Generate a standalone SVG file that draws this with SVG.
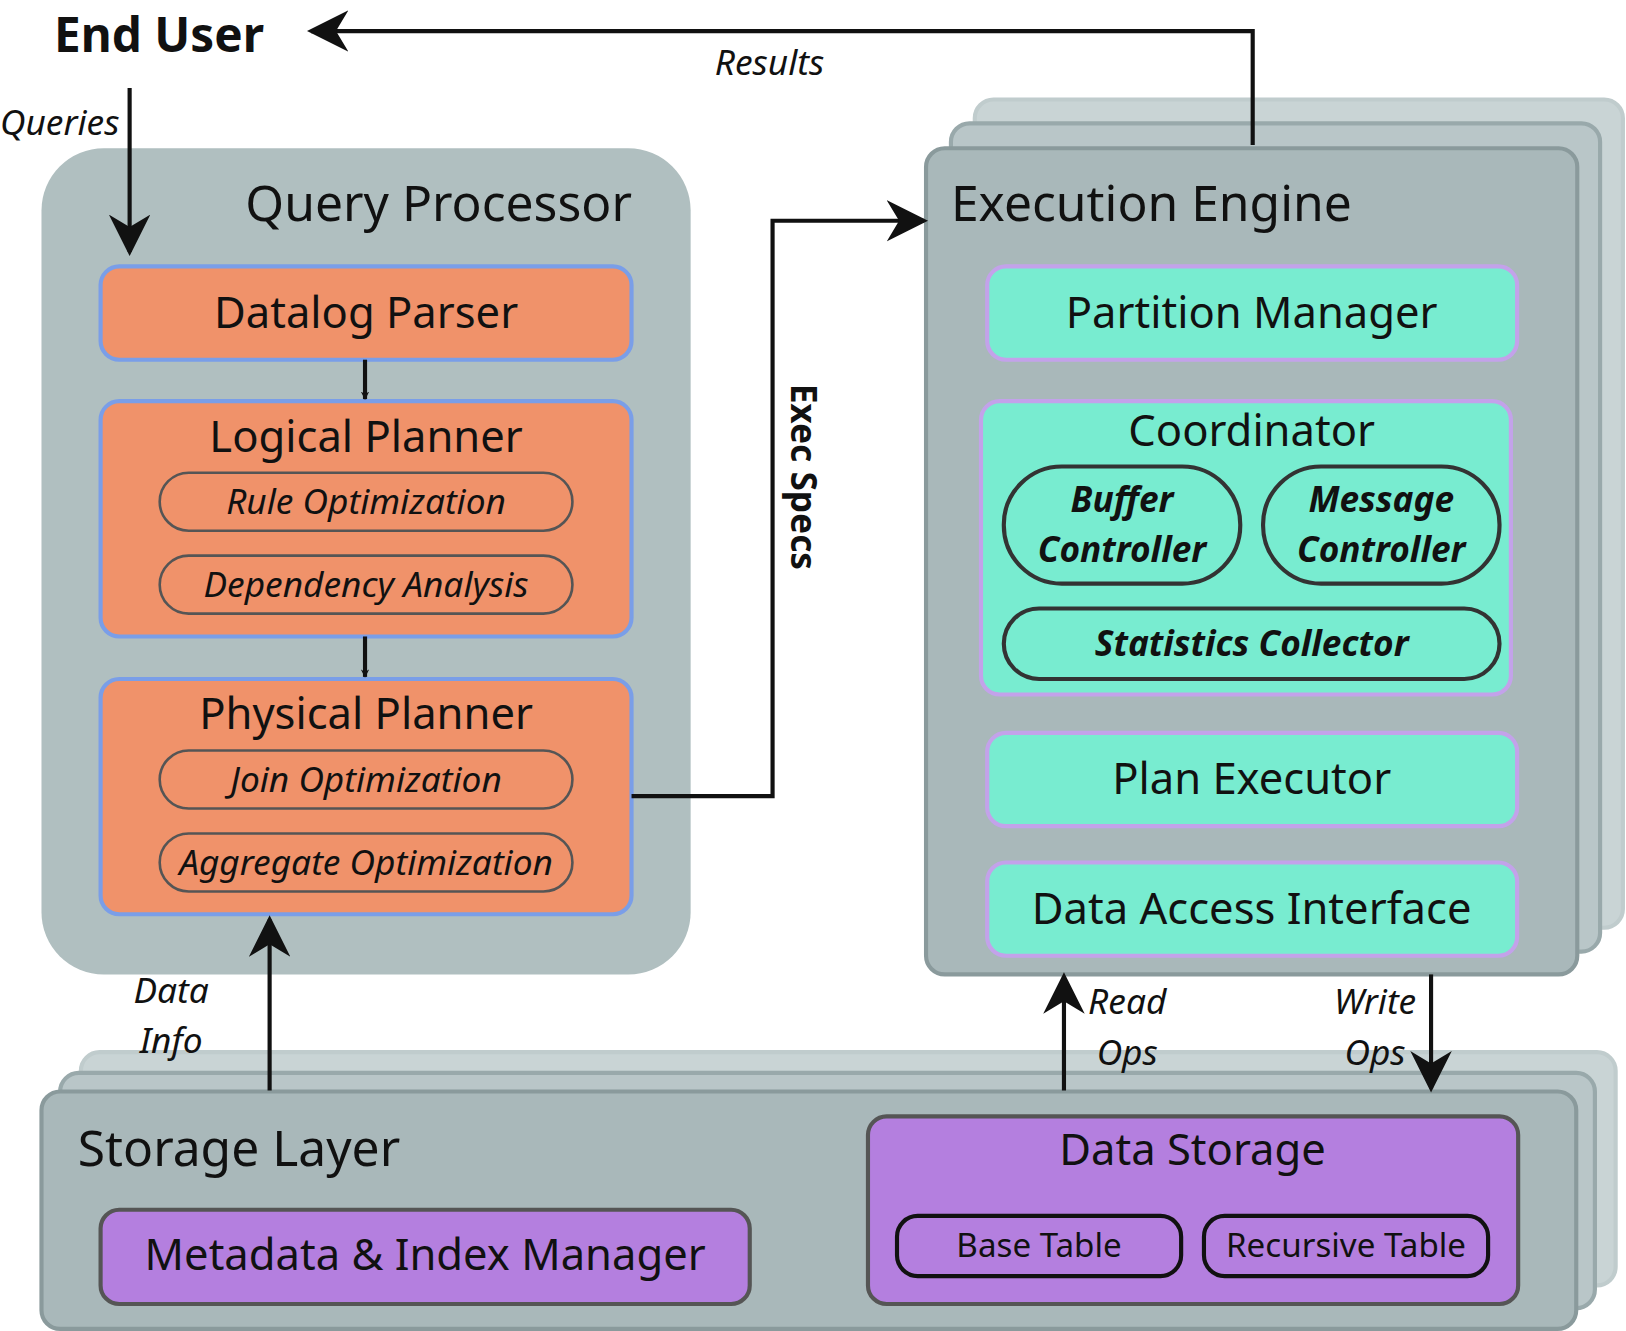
<svg xmlns="http://www.w3.org/2000/svg" width="1626" height="1331" viewBox="0 0 1626 1331">
<defs>
<style>
text{font-family:"Noto Sans","Open Sans",sans-serif;fill:#111}
.t50{font-size:48px}
.t42{font-size:42px;text-anchor:middle}
.i34{font-size:34px;font-style:italic;text-anchor:middle}
.lbl{font-size:34px;font-style:italic}
.b34{font-size:34px;font-weight:bold;font-style:italic;text-anchor:middle}
.orange{fill:#f0926a;stroke:#7a9ee8;stroke-width:4}
.pill{fill:#f0926a;stroke:#555;stroke-width:2.5}
.teal{fill:#78ecd0;stroke:#c3a2ea;stroke-width:4}
.tpill{fill:#78ecd0;stroke:#333;stroke-width:4}
.purple{fill:#b47fdf;stroke:#555;stroke-width:4}
.ppill{fill:#b47fdf;stroke:#111;stroke-width:4}
.gray{fill:#a9b8ba;stroke:#8a9a9c;stroke-width:4}
.line{fill:none;stroke:#111;stroke-width:4}
</style>
<marker id="ah" viewBox="0 0 10 10" refX="9" refY="5" markerWidth="8" markerHeight="8" markerUnits="userSpaceOnUse" orient="auto"><path d="M0,0 L10,5 L0,10 L3,5 z" fill="#111"/></marker>
<marker id="ahL" viewBox="0 0 10 10" refX="9" refY="5" markerWidth="10" markerHeight="10" orient="auto"><path d="M0,0 L10,5 L0,10 L3,5 z" fill="#111"/></marker>
</defs>
<g transform="scale(1.037,1.0366)">
<g id="end-user"><text x="52" y="50" style="font-size:46px;font-weight:bold">End User</text></g>

<g id="query-processor">
<rect x="40" y="143" width="626" height="797" rx="60" fill="#b0bfc0"/>
<text x="423" y="213" class="t50" text-anchor="middle">Query Processor</text>
</g>
<g id="datalog-parser"><rect class="orange" x="97" y="257" width="512" height="90" rx="18"/><text class="t42" x="353" y="316">Datalog Parser</text></g>
<g id="logical-planner"><rect class="orange" x="97" y="387" width="512" height="227" rx="18"/><text class="t42" x="353" y="436">Logical Planner</text>
<rect class="pill" x="154" y="456" width="398" height="56" rx="28"/><text class="i34" x="353" y="496">Rule Optimization</text>
<rect class="pill" x="154" y="536" width="398" height="56" rx="28"/><text class="i34" x="353" y="576">Dependency Analysis</text></g>
<g id="physical-planner"><rect class="orange" x="97" y="655" width="512" height="227" rx="18"/><text class="t42" x="353" y="703">Physical Planner</text>
<rect class="pill" x="154" y="724" width="398" height="56" rx="28"/><text class="i34" x="353" y="764">Join Optimization</text>
<rect class="pill" x="154" y="804" width="398" height="56" rx="28"/><text class="i34" x="353" y="844">Aggregate Optimization</text></g>

<g id="execution-engine">
<rect x="940" y="96" width="625" height="799" rx="18" fill="#c9d4d5" stroke="#c0cccd" stroke-width="4"/>
<rect x="917" y="119" width="626" height="799" rx="18" fill="#b9c6c8" stroke="#99a9ab" stroke-width="4"/>
<rect class="gray" x="893" y="143" width="628" height="797" rx="18"/>
<text x="917" y="213" class="t50">Execution Engine</text>
</g>
<g id="partition-manager"><rect class="teal" x="952" y="257" width="511" height="90" rx="18"/><text class="t42" x="1207" y="316">Partition Manager</text></g>
<g id="coordinator"><rect class="teal" x="946" y="387" width="511" height="283" rx="18"/><text class="t42" x="1207" y="430">Coordinator</text>
<rect class="tpill" x="968" y="450" width="228" height="113" rx="56"/><text class="b34" x="1082" y="494">Buffer</text><text class="b34" x="1082" y="542">Controller</text>
<rect class="tpill" x="1218" y="450" width="228" height="113" rx="56"/><text class="b34" x="1332" y="494">Message</text><text class="b34" x="1332" y="542">Controller</text>
<rect class="tpill" x="968" y="587" width="478" height="68" rx="34"/><text class="b34" x="1207" y="633">Statistics Collector</text></g>
<g id="plan-executor"><rect class="teal" x="952" y="707" width="511" height="90" rx="18"/><text class="t42" x="1207" y="766">Plan Executor</text></g>
<g id="data-access-interface"><rect class="teal" x="952" y="832" width="511" height="90" rx="18"/><text class="t42" x="1207" y="891">Data Access Interface</text></g>

<g id="storage-layer">
<rect x="78" y="1015" width="1480" height="225" rx="18" fill="#c9d4d5" stroke="#c0cccd" stroke-width="4"/>
<rect x="58" y="1035" width="1480" height="227" rx="18" fill="#b9c6c8" stroke="#99a9ab" stroke-width="4"/>
<rect class="gray" x="40" y="1053" width="1480" height="229" rx="18"/>
<text x="75" y="1125" class="t50">Storage Layer</text>
</g>
<g id="metadata-index-manager"><rect class="purple" x="97" y="1167" width="626" height="91" rx="18"/><text class="t42" x="410" y="1225">Metadata &amp; Index Manager</text></g>
<g id="data-storage"><rect class="purple" x="837" y="1077" width="627" height="181" rx="18"/><text class="t42" x="1150" y="1124">Data Storage</text>
<rect class="ppill" x="865" y="1173" width="274" height="58" rx="20"/><text x="1002" y="1213" style="font-size:32px;text-anchor:middle">Base Table</text>
<rect class="ppill" x="1161" y="1173" width="274" height="58" rx="20"/><text x="1298" y="1213" style="font-size:32px;text-anchor:middle">Recursive Table</text></g>

<g id="connectors">
<path class="line" d="M1208,140 V30 H300" marker-end="url(#ahL)"/>
<path class="line" d="M125,85 V243" marker-end="url(#ahL)"/>
<path class="line" d="M352,347 V385" marker-end="url(#ah)"/>
<path class="line" d="M352,614 V653" marker-end="url(#ah)"/>
<path class="line" d="M609,768 H745 V213 H891" marker-end="url(#ahL)"/>
<path class="line" d="M260,1052 V887" marker-end="url(#ahL)"/>
<path class="line" d="M1026,1052 V942" marker-end="url(#ahL)"/>
<path class="line" d="M1380,940 V1050" marker-end="url(#ahL)"/>
<text class="lbl" x="742" y="72" text-anchor="middle">Results</text>
<text class="lbl" x="0" y="130">Queries</text>
<text x="772" y="460" transform="rotate(90 772 460)" style="font-size:34px;font-weight:bold;text-anchor:middle;dominant-baseline:middle">Exec Specs</text>
<text class="i34" x="165" y="968">Data</text><text class="i34" x="165" y="1016">Info</text>
<text class="i34" x="1087" y="978">Read</text><text class="i34" x="1087" y="1027">Ops</text>
<text class="i34" x="1326" y="978">Write</text><text class="i34" x="1326" y="1027">Ops</text>
</g>
</g>
</svg>
